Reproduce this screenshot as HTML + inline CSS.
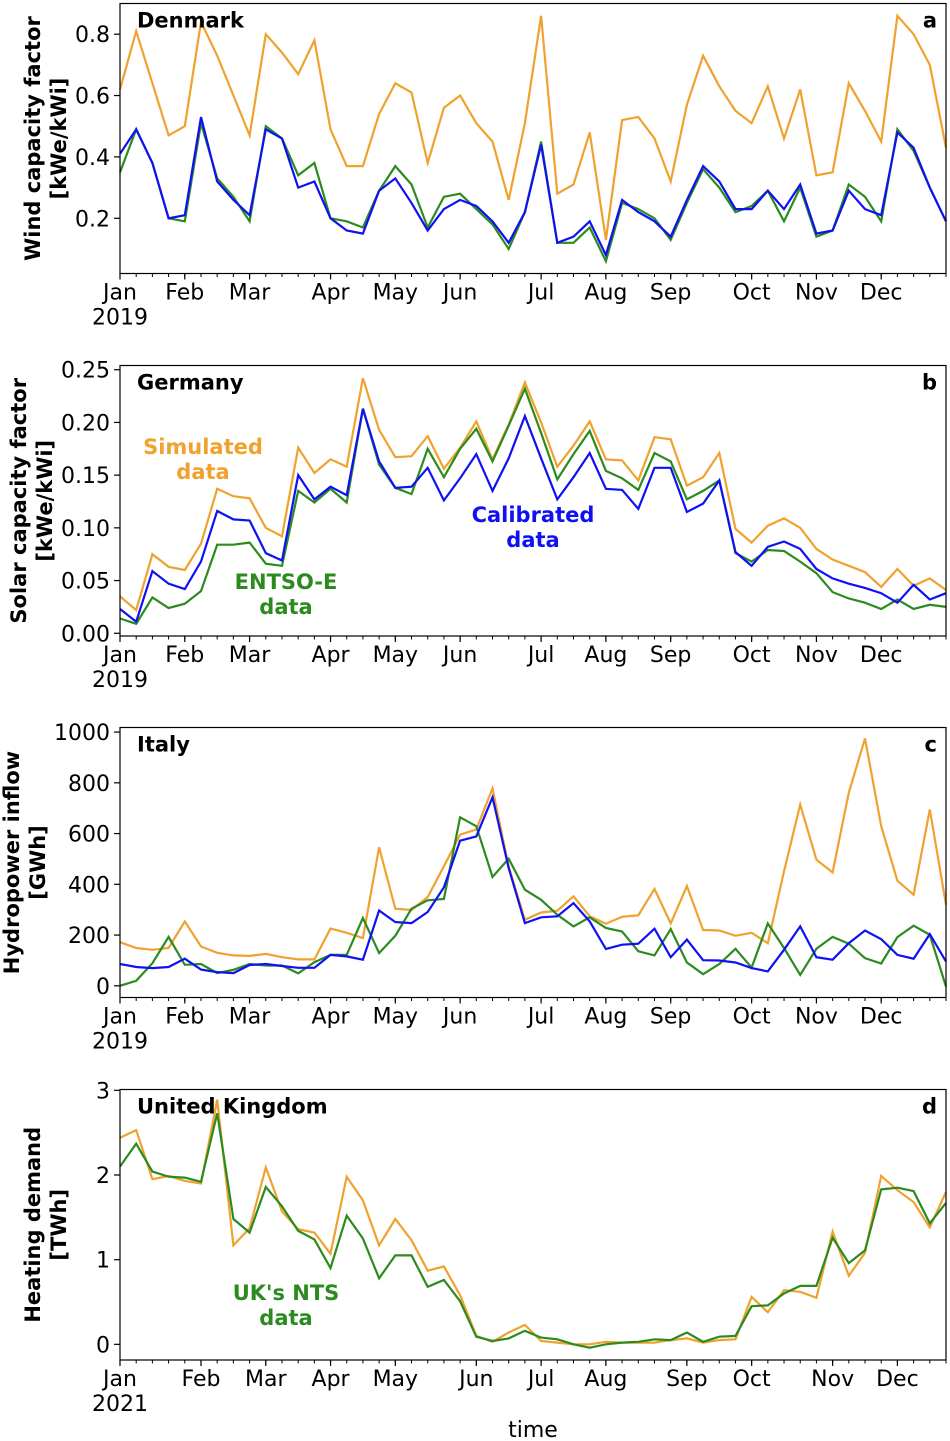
<!DOCTYPE html>
<html><head><meta charset="utf-8"><style>
html,body{margin:0;padding:0;background:#fff;}
svg{display:block;font-family:"DejaVu Sans","Liberation Sans",sans-serif;}
</style></head><body>
<svg id="fig" width="950" height="1441" viewBox="0 0 950 1441" xmlns="http://www.w3.org/2000/svg"></svg>
<script>
// ---- data (weekly, 52 points) ----
const dkSim = [0.62,0.81,0.64,0.47,0.50,0.84,0.73,0.60,0.47,0.80,0.74,0.67,0.78,0.49,0.37,0.37,0.54,0.64,0.61,0.38,0.56,0.60,0.51,0.45,0.26,0.51,0.86,0.28,0.31,0.48,0.13,0.52,0.53,0.46,0.32,0.57,0.73,0.63,0.55,0.51,0.63,0.46,0.62,0.34,0.35,0.64,0.55,0.45,0.86,0.80,0.70,0.43];
const dkEnt = [0.35,0.49,0.38,0.20,0.19,0.51,0.33,0.27,0.19,0.50,0.46,0.34,0.38,0.20,0.19,0.17,0.29,0.37,0.31,0.17,0.27,0.28,0.23,0.18,0.10,0.22,0.45,0.12,0.12,0.17,0.06,0.25,0.23,0.20,0.13,0.25,0.36,0.30,0.22,0.24,0.29,0.19,0.30,0.14,0.16,0.31,0.27,0.19,0.49,0.42,0.30,0.19];
const dkCal = [0.41,0.49,0.38,0.20,0.21,0.53,0.32,0.26,0.21,0.49,0.46,0.30,0.32,0.20,0.16,0.15,0.29,0.33,0.25,0.16,0.23,0.26,0.24,0.19,0.12,0.22,0.44,0.12,0.14,0.19,0.08,0.26,0.22,0.19,0.14,0.26,0.37,0.32,0.23,0.23,0.29,0.23,0.31,0.15,0.16,0.29,0.23,0.21,0.48,0.43,0.30,0.19];
const deSim = [0.035,0.022,0.075,0.063,0.060,0.085,0.137,0.130,0.128,0.100,0.092,0.176,0.152,0.165,0.158,0.242,0.193,0.167,0.168,0.187,0.156,0.176,0.201,0.165,0.198,0.238,0.200,0.158,0.178,0.201,0.165,0.164,0.145,0.186,0.184,0.140,0.148,0.171,0.099,0.086,0.102,0.109,0.100,0.080,0.070,0.064,0.058,0.044,0.061,0.045,0.052,0.041];
const deEnt = [0.014,0.009,0.034,0.024,0.028,0.040,0.084,0.084,0.086,0.066,0.064,0.135,0.124,0.137,0.124,0.213,0.160,0.138,0.132,0.175,0.148,0.175,0.194,0.163,0.197,0.232,0.190,0.146,0.170,0.192,0.154,0.147,0.136,0.171,0.163,0.127,0.135,0.145,0.076,0.068,0.079,0.078,0.068,0.057,0.039,0.033,0.029,0.023,0.032,0.023,0.027,0.025];
const deCal = [0.023,0.011,0.059,0.047,0.042,0.068,0.116,0.108,0.107,0.076,0.069,0.150,0.127,0.139,0.131,0.213,0.163,0.138,0.139,0.157,0.126,0.147,0.170,0.135,0.166,0.206,0.166,0.127,0.148,0.171,0.137,0.136,0.118,0.157,0.157,0.115,0.123,0.145,0.077,0.064,0.082,0.087,0.080,0.061,0.052,0.047,0.043,0.038,0.029,0.046,0.032,0.038];
const itSim = [172,149,142,149,254,155,130,120,118,126,113,104,104,226,209,188,546,304,299,350,471,596,616,778,470,260,289,296,353,274,245,272,278,382,246,393,220,218,197,209,168,451,714,497,447,761,975,629,414,359,695,320];
const itEnt = [0,20,89,193,83,86,50,63,86,80,80,49,93,122,122,267,129,197,304,337,342,664,629,429,501,379,339,280,234,270,228,214,136,120,224,92,46,86,146,72,246,149,43,146,193,166,109,88,192,237,201,-3];
const itCal = [86,74,70,74,107,64,54,50,82,86,78,71,71,122,116,103,297,251,247,291,388,572,589,743,464,247,270,274,326,254,145,162,166,225,113,182,101,100,92,70,57,142,234,113,103,168,218,184,122,107,204,96];
const ukSim = [2.44,2.53,1.95,1.99,1.93,1.90,2.89,1.17,1.37,2.09,1.57,1.36,1.32,1.07,1.98,1.70,1.17,1.48,1.23,0.87,0.92,0.58,0.10,0.03,0.14,0.23,0.04,0.02,0.00,0.00,0.03,0.02,0.02,0.02,0.05,0.07,0.02,0.05,0.06,0.56,0.38,0.64,0.62,0.55,1.33,0.81,1.08,1.99,1.82,1.68,1.38,1.80];
const ukNts = [2.10,2.37,2.04,1.98,1.97,1.92,2.73,1.48,1.32,1.86,1.63,1.34,1.24,0.90,1.52,1.25,0.78,1.05,1.05,0.68,0.76,0.51,0.09,0.04,0.07,0.16,0.08,0.06,0.00,-0.04,0.00,0.02,0.03,0.06,0.05,0.14,0.03,0.09,0.10,0.45,0.46,0.60,0.69,0.69,1.26,0.96,1.11,1.83,1.85,1.81,1.43,1.67];
const months = ["Jan","Feb","Mar","Apr","May","Jun","Jul","Aug","Sep","Oct","Nov","Dec"];
const monthWeeks2019 = [0,4,8,13,17,21,26,30,34,39,43,47];
const monthWeeks2021 = [0,5,9,13,17,22,26,30,35,39,44,48];
const ticksA = [0.2,0.4,0.6,0.8];
const ticksB = [0.00,0.05,0.10,0.15,0.20,0.25];
const ticksC = [0,200,400,600,800,1000];
const ticksD = [0,1,2,3];

const C_OR = "#EFA22E", C_GR = "#2C8B1E", C_BL = "#1010F5";
const svg = document.getElementById('fig');
const NS = "http://www.w3.org/2000/svg";
function mk(tag, attrs, parent){ const e=document.createElementNS(NS,tag); for(const k in attrs) e.setAttribute(k,attrs[k]); (parent||svg).appendChild(e); return e; }
function txt(s, attrs, parent){ const e=mk('text',attrs,parent); e.textContent=s; return e; }

const X0=120, X1=946;
function panel(cfg){
  const g=mk('g',{});
  
  
  const top=cfg.top, bot=cfg.top+cfg.h;
  const xs=i=>X0+(X1-X0)*i/51;
  const ys=v=>bot-(v-cfg.ymin)/(cfg.ymax-cfg.ymin)*cfg.h;
  // y ticks
  cfg.ticks.forEach((t,k)=>{
    const y=ys(t);
    const tl=mk('line',{x1:X0-6,x2:X0,y1:y,y2:y,stroke:'#000','stroke-width':1.2},g);
    
    
    const lb=txt(cfg.fmt(t),{x:X0-10,y:y+8,'text-anchor':'end','font-size':22,fill:'#000'},g);
    
    
  });
  // x minor ticks
  for(let i=0;i<52;i++){
    const m=mk('line',{x1:xs(i),x2:xs(i),y1:bot,y2:bot+3.5,stroke:'#000','stroke-width':1},g);
    
    
  }
  cfg.mw.forEach((w,k)=>{
    const x=xs(w);
    const tl=mk('line',{x1:x,x2:x,y1:bot,y2:bot+6,stroke:'#000','stroke-width':1.2},g);
    
    
    const lb=txt(months[k],{x:x,y:bot+26,'text-anchor':'middle','font-size':22,fill:'#000'},g);
    
    
  });
  const yr=txt(cfg.year,{x:X0,y:bot+51,'text-anchor':'middle','font-size':22,fill:'#000'},g);
  
  
  // series
  cfg.series.forEach(s=>{
    const pts=s.d.map((v,i)=>xs(i).toFixed(1)+','+ys(v).toFixed(1)).join(' ');
    const pl=mk('polyline',{points:pts,fill:'none',stroke:s.c,'stroke-width':2.2,'stroke-linejoin':'miter'},g);
    
    
  });
  const fr=mk('rect',{x:X0,y:top,width:X1-X0,height:cfg.h,fill:'none',stroke:'#000','stroke-width':1.2},g);
  
  
  const tt=txt(cfg.title,{x:137,y:top+24,'font-size':21,'font-weight':'bold',fill:'#000'},g);
  
  
  const lt=txt(cfg.letter,{x:937,y:top+24,'text-anchor':'end','font-size':21,'font-weight':'bold',fill:'#000'},g);
  
  
  const cy=top+cfg.h/2;
  const yl=txt('',{transform:`translate(${cfg.lx},${cy}) rotate(-90)`,'text-anchor':'middle','font-size':21,'font-weight':'bold',fill:'#000'},g);
  
  
  const t1=mk('tspan',{x:0,y:0},yl); t1.textContent=cfg.yl1;
  const t2=mk('tspan',{x:0,y:26},yl); t2.textContent=cfg.yl2;
}
panel({name:'panel-a-denmark',top:3.5,h:270,ymin:0.020,ymax:0.90,ticks:ticksA,fmt:v=>v.toFixed(1),mw:monthWeeks2019,year:'2019',
  title:'Denmark',letter:'a',lx:40,yl1:'Wind capacity factor',yl2:'[kWe/kWi]',
  series:[{d:dkSim,c:C_OR,n:'simulated-line'},{d:dkEnt,c:C_GR,n:'entsoe-line'},{d:dkCal,c:C_BL,n:'calibrated-line'}]});
panel({name:'panel-b-germany',top:365.5,h:270.5,ymin:-0.0026,ymax:0.254,ticks:ticksB,fmt:v=>v.toFixed(2),mw:monthWeeks2019,year:'2019',
  title:'Germany',letter:'b',lx:26,yl1:'Solar capacity factor',yl2:'[kWe/kWi]',
  series:[{d:deSim,c:C_OR,n:'simulated-line'},{d:deEnt,c:C_GR,n:'entsoe-line'},{d:deCal,c:C_BL,n:'calibrated-line'}]});
panel({name:'panel-c-italy',top:727.5,h:270,ymin:-46,ymax:1018,ticks:ticksC,fmt:v=>String(v),mw:monthWeeks2019,year:'2019',
  title:'Italy',letter:'c',lx:19,yl1:'Hydropower inflow',yl2:'[GWh]',
  series:[{d:itSim,c:C_OR,n:'simulated-line'},{d:itEnt,c:C_GR,n:'entsoe-line'},{d:itCal,c:C_BL,n:'calibrated-line'}]});
panel({name:'panel-d-uk',top:1089.5,h:270.5,ymin:-0.185,ymax:3.01,ticks:ticksD,fmt:v=>String(v),mw:monthWeeks2021,year:'2021',
  title:'United Kingdom',letter:'d',lx:40,yl1:'Heating demand',yl2:'[TWh]',
  series:[{d:ukSim,c:C_OR,n:'simulated-line'},{d:ukNts,c:C_GR,n:'nts-line'}]});

function ann(lines,x,y,c,name){
  const t=txt('',{x:x,y:y,'text-anchor':'middle','font-size':21,'font-weight':'bold',fill:c});
  
  
  lines.forEach((l,k)=>{const s=mk('tspan',{x:x,y:y+k*25},t); s.textContent=l;});
}
ann(['Simulated','data'],203,454,C_OR,'simulated-annotation');
ann(['Calibrated','data'],533,522,C_BL,'calibrated-annotation');
ann(['ENTSO-E','data'],286,589,C_GR,'entsoe-annotation');
ann(['UK\'s NTS','data'],286,1300,C_GR,'nts-annotation');
const xl=txt('time',{x:533,y:1437,'text-anchor':'middle','font-size':22,fill:'#000'});


</script>
</body></html>
